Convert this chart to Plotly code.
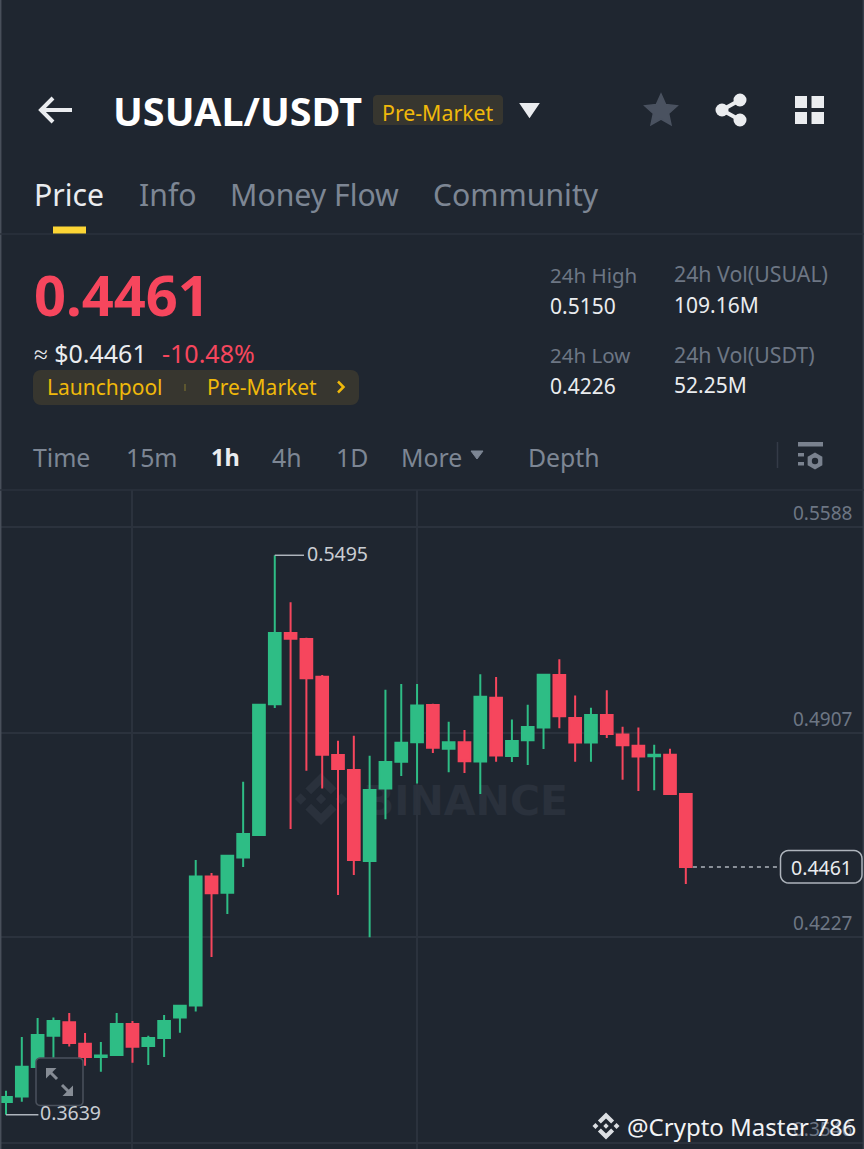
import math
import plotly.graph_objects as go

W, H = 864, 1149

# candles, one per hour
opens = [.3681, .3699, .3797, .3901, .3946, .3874, .3830, .3837, .3940, .3867, .3893,
         .3961, .4001, .4429, .4375, .4492, .4567, .5001, .5237, .5217, .5092, .4832,
         .4783, .4481, .4721, .4810, .4875, .4998, .4853, .4875, .4811, .5022, .4829,
         .4881, .4924, .5098, .4955, .4874, .4965, .4900, .4863, .4828, .4833, .4703]
closes = [.3698, .3798, .3903, .3950, .3877, .3830, .3835, .3940, .3864, .3893, .3950,
          .4000, .4429, .4374, .4498, .4570, .4999, .5237, .5218, .5087, .4833, .4786,
          .4484, .4716, .4809, .4873, .4997, .4856, .4875, .4812, .5026, .4831, .4879,
          .4925, .5099, .4961, .4874, .4965, .4902, .4865, .4827, .4833, .4703, .4461]
highs = [.3718, .3897, .3960, .3961, .3976, .3910, .3880, .3976, .3950, .3901, .3970,
         .4000, .4484, .4441, .4501, .4744, .5000, .5495, .5339, .5221, .5098, .4880,
         .4896, .4830, .5049, .5068, .5068, .5002, .4943, .4915, .5100, .5091, .4950,
         .4999, .5101, .5150, .5030, .4989, .5047, .4926, .4924, .4866, .4853, .4703]
lows = [.3639, .3682, .3790, .3827, .3865, .3801, .3781, .3834, .3811, .3804, .3830,
        .3911, .3981, .4162, .4305, .4461, .4564, .4988, .4587, .4780, .4721, .4368,
        .4434, .4228, .4619, .4763, .4738, .4839, .4775, .4773, .4703, .4810, .4809,
        .4799, .4852, .4921, .4810, .4810, .4889, .4750, .4713, .4715, .4703, .4404]
hours = list(range(len(opens)))

price_ticks = [0.5588, 0.4907, 0.4227, 0.3546]
time_ticks = [8, 26]

tabs = ["Price", "Info", "Money Flow", "Community"]
intervals = ["Time", "15m", "1h", "4h", "1D", "More", "Depth"]

BG = "#1f2630"
GRID = "#2b323d"
GREEN = "#2ebd85"
RED = "#f6465d"
YELLOW = "#f0b90b"
WHITE = "#eaecef"
GRAY = "#7d8694"
DIM = "#6d7684"
BADGE = "#37362f"
FONT = "Noto Sans"

shapes = []
notes = []


def px(x):
    return x / W


def py(y):
    return 1 - y / H


def text(x, y, s, size, color, anchor="left", bold=False, family=FONT):
    notes.append(dict(x=px(x), y=py(y), xref="paper", yref="paper", text=f"<b>{s}</b>" if bold else s,
                      showarrow=False, xanchor=anchor, yanchor="middle", borderpad=0,
                      font=dict(family=family, size=size, color=color)))


def path(points, fill=None, line=None, width=0, close=True, layer="above"):
    # points are pixels of the page
    d = "M" + " L".join(f"{px(a):.5f},{py(b):.5f}" for a, b in points) + (" Z" if close else "")
    shapes.append(dict(type="path", path=d, xref="paper", yref="paper", layer=layer,
                       fillcolor=fill if fill else "rgba(0,0,0,0)",
                       line=dict(color=line if line else "rgba(0,0,0,0)", width=width)))


def round_rect(x0, y0, x1, y1, r, fill=None, line=None, width=0):
    pts = []
    corners = [(x1 - r, y0 + r, -90), (x1 - r, y1 - r, 0), (x0 + r, y1 - r, 90), (x0 + r, y0 + r, 180)]
    for cx, cy, start in corners:
        for step in range(7):
            a = math.radians(start + step * 15)
            pts.append((cx + r * math.cos(a), cy + r * math.sin(a)))
    path(pts, fill, line, width)


def circle(cx, cy, r, fill):
    shapes.append(dict(type="circle", xref="paper", yref="paper", x0=px(cx - r), x1=px(cx + r),
                       y0=py(cy + r), y1=py(cy - r), fillcolor=fill, line=dict(width=0)))


def logo(cx, cy, s, color, layer="above"):
    parts = [
        [(0, -.2), (.2, 0), (0, .2), (-.2, 0)],
        [(-1, 0), (-.78, -.22), (-.56, 0), (-.78, .22)],
        [(1, 0), (.78, -.22), (.56, 0), (.78, .22)],
        [(0, -1), (.6, -.4), (.38, -.18), (0, -.56), (-.38, -.18), (-.6, -.4)],
        [(0, 1), (.6, .4), (.38, .18), (0, .56), (-.38, .18), (-.6, .4)],
    ]
    for part in parts:
        path([(cx + a * s, cy + b * s) for a, b in part], fill=color, layer=layer)


# screen edges and separators
path([(0.7, 0), (0.7, H)], line="#484f5a", width=1.5, close=False)
path([(863.3, 0), (863.3, H)], line="#363d48", width=1.5, close=False)
path([(0, 234), (W, 234)], line=GRID, width=1.5, close=False)
path([(0, 490), (W, 490)], line=GRID, width=1.5, close=False)

# header
path([(72, 110), (41, 110)], line=WHITE, width=4, close=False)
path([(53, 98), (41, 110), (53, 122)], line=WHITE, width=4, close=False)
text(112, 111, "USUAL/USDT", 39.5, "#ffffff", bold=True)
round_rect(373, 95, 503, 125, 4, fill=BADGE)
text(438, 112, "Pre-Market", 21.3, YELLOW, anchor="center")
path([(522, 104.5), (537, 104.5), (529.5, 115.5)], fill=WHITE, line=WHITE, width=3)

star = []
for k in range(10):
    r = 17 if k % 2 == 0 else 8
    a = math.radians(-90 + k * 36)
    star.append((661 + r * math.cos(a), 111 + r * math.sin(a)))
path(star, fill="#4a5260", line="#4a5260", width=1.5)

path([(740, 100), (722, 110), (740, 120)], line=WHITE, width=4, close=False)
circle(740, 100, 6.5, WHITE)
circle(722, 110, 6.5, WHITE)
circle(740, 120, 6.5, WHITE)
for x0, x1 in [(795, 807), (811.5, 824)]:
    for y0, y1 in [(96, 108), (112, 124)]:
        path([(x0, y0), (x1, y0), (x1, y1), (x0, y1)], fill=WHITE)

# tabs
for x, label in zip([33, 138, 229, 432], tabs):
    text(x, 194, label, 30.2, WHITE if label == "Price" else GRAY)
path([(53, 226.5), (86, 226.5), (86, 233.5), (53, 233.5)], fill="#fcd535")

# price block
text(33, 294, "0.4461", 56, RED, bold=True)
text(33, 353, "≈ $0.4461", 25, WHITE)
text(161, 353, "-10.48%", 25, RED)
round_rect(33, 370, 359, 405, 8, fill=BADGE)
text(46, 387, "Launchpool", 21, YELLOW)
path([(185, 384), (185, 391)], line="#6b6330", width=1.5, close=False)
text(206, 387, "Pre-Market", 21, YELLOW)
path([(338, 381.5), (343.5, 387), (338, 392.5)], line=YELLOW, width=2.5, close=False)

# 24h stats
text(549, 275, "24h High", 20.5, DIM)
text(549, 306, "0.5150", 21, WHITE)
text(549, 355, "24h Low", 20.5, DIM)
text(549, 386, "0.4226", 21, WHITE)
text(673, 274, "24h Vol(USUAL)", 21.3, DIM)
text(673, 305, "109.16M", 21, WHITE)
text(673, 354, "24h Vol(USDT)", 21.3, DIM)
text(673, 385, "52.25M", 21, WHITE)

# interval row
for x, label in zip([32, 125, 210, 271, 335, 400, 527], intervals):
    text(x, 457, label, 23.5 if label == "1h" else 24.8, WHITE if label == "1h" else GRAY, bold=label == "1h")
path([(471, 451), (483, 451), (477, 459)], fill=GRAY, line=GRAY, width=1)
path([(777.5, 442), (777.5, 468)], line="#343b47", width=1.5, close=False)
path([(798, 442), (823, 442), (823, 446.5), (798, 446.5)], fill="#7a828f")
path([(798, 453), (804, 453), (804, 456.5), (798, 456.5)], fill="#7a828f")
path([(798, 462), (804, 462), (804, 465.5), (798, 465.5)], fill="#7a828f")
hexa = [(815 + 8.5 * math.cos(math.radians(30 + 60 * k)), 461 + 8.5 * math.sin(math.radians(30 + 60 * k)))
        for k in range(6)]
path(hexa, fill="#7a828f")
circle(815, 461, 3.2, BG)

# watermark under the candles
logo(321, 799, 26, "#2a313c", layer="below")
shapes.append(dict(type="rect", xref="paper", yref="paper", layer="below", x0=px(345), x1=px(586),
                   y0=py(820), y1=py(776), line=dict(width=0), fillcolor="rgba(0,0,0,0)",
                   label=dict(text="<b>BINANCE</b>", textposition="middle center",
                              font=dict(family="DejaVu Sans", size=41, color="#2a313c"))))

# price axis labels sit just above their grid lines
for p, y in zip(price_ticks, [513, 719, 923, 1129]):
    text(853, y, f"{p:.4f}", 19, DIM, anchor="right")

# high, low and last price markers, on the chart's own scales
hi = highs.index(max(highs))
lo = lows.index(min(lows))
LABEL = "#aeb4bc"
shapes.append(dict(type="line", xref="x", yref="y", x0=hi, x1=hi + 1.85, y0=highs[hi], y1=highs[hi],
                   line=dict(color=LABEL, width=1.5)))
shapes.append(dict(type="line", xref="x", yref="y", x0=lo, x1=lo + 2.05, y0=lows[lo], y1=lows[lo],
                   line=dict(color=LABEL, width=1.5)))
shapes.append(dict(type="line", xref="x", yref="y", x0=hours[-1] + 0.45, x1=48.95, y0=closes[-1], y1=closes[-1],
                   line=dict(color=LABEL, width=1.5, dash="4px,4px")))
for x, y, s in [(hi + 2.0, highs[hi], highs[hi]), (lo + 2.1, lows[lo], lows[lo])]:
    notes.append(dict(x=x, y=y, xref="x", yref="y", text=f"{s:.4f}", showarrow=False, xanchor="left",
                      yanchor="middle", yshift=2, borderpad=0,
                      font=dict(family=FONT, size=19.5, color="#c9cdd3")))

round_rect(780.5, 850.5, 862, 883, 8, fill=BG, line="#aeb4bc", width=1.5)
text(821.5, 867, f"{closes[-1]:.4f}", 19.5, WHITE, anchor="center")

# expand button over the first candles
round_rect(36, 1058, 83, 1105.5, 4, fill=BG, line="#4b525d", width=1.5)
path([(46, 1068), (56.5, 1068), (46, 1078.5)], fill="#868c95")
path([(50, 1072), (57, 1079)], line="#868c95", width=3, close=False)
path([(73, 1096), (62.5, 1096), (73, 1085.5)], fill="#868c95")
path([(69, 1092), (62, 1085)], line="#868c95", width=3, close=False)

# repost stamp, bottom right
logo(606, 1126, 13.5, "#dcdfe3")
text(626, 1126, "@Crypto Master 786", 24, "#f2f3f5")

fig = go.Figure(go.Candlestick(
    x=hours, open=opens, high=highs, low=lows, close=closes,
    increasing=dict(line=dict(color=GREEN, width=2), fillcolor=GREEN),
    decreasing=dict(line=dict(color=RED, width=2), fillcolor=RED),
    whiskerwidth=0, hoverinfo="skip",
))

fig.update_layout(
    width=W, height=H, autosize=False,
    margin=dict(l=0, r=0, t=0, b=0),
    paper_bgcolor=BG, plot_bgcolor=BG,
    showlegend=False, boxgap=0.26, boxgroupgap=0,
    font=dict(family=FONT),
    shapes=shapes, annotations=notes,
    xaxis=dict(range=[-0.3795, 54.27], tickvals=time_ticks, showticklabels=False, ticks="",
               showgrid=True, gridcolor=GRID, gridwidth=1.5, zeroline=False,
               rangeslider=dict(visible=False), fixedrange=True),
    yaxis=dict(domain=[0, 659 / H], range=[0.35251, 0.57116], tickvals=price_ticks, showticklabels=False,
               ticks="", showgrid=True, gridcolor=GRID, gridwidth=1.5, zeroline=False, fixedrange=True),
)

fig.write_html("out.html", config=dict(displayModeBar=False),
               post_script="document.body.style.margin='0';document.body.style.background='%s';" % BG)
